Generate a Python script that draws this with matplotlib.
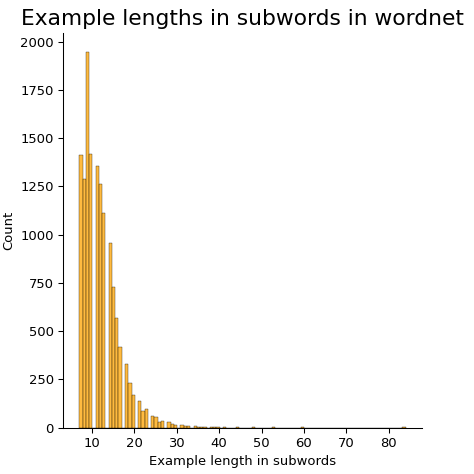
import numpy as np
import matplotlib.pyplot as plt
import seaborn as sns

# example length (subwords) -> number of examples
lengths = [7, 8, 9, 10, 11, 12, 13, 14, 15, 16, 17, 18, 19, 20, 21, 22, 23, 24,
           25, 26, 27, 28, 29, 30, 31, 32, 33, 34, 35, 36, 37, 38, 39, 40, 41,
           44, 48, 53, 60, 84]
counts = [1415, 1290, 1950, 1420, 1355, 1265, 1110, 955, 730, 570, 420, 330,
          230, 170, 140, 85, 95, 60, 55, 30, 32, 30, 18, 15, 12, 10, 8, 6, 5,
          4, 5, 3, 2, 2, 3, 1, 1, 1, 1, 1]

data = np.repeat(lengths, counts)

fig = plt.figure(figsize=(5, 5), dpi=94.8)
ax = fig.add_axes([0.133, 0.098, 0.757, 0.833])
sns.histplot(x=data, bins=100, color='orange', ax=ax)
sns.despine(ax=ax)
ax.set_xlabel('Example length in subwords')
ax.set_ylabel('Count')
ax.set_title('Example lengths in subwords in wordnet', fontsize=16.5)
fig.savefig('out.png', dpi=94.8)
